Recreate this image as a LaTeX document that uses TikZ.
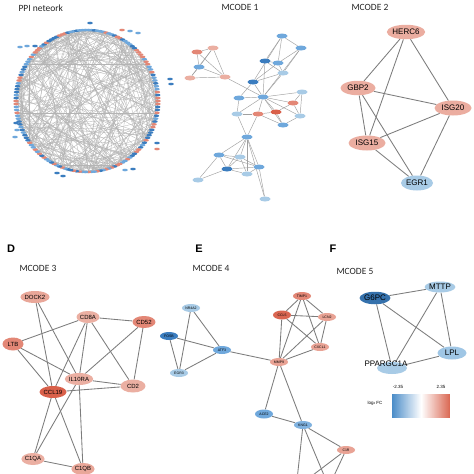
\documentclass[tikz,border=0pt]{standalone}
\usepackage{fontspec}
\setmainfont{Liberation Sans}
\newfontfamily\calib{Carlito}
\usetikzlibrary{shapes.geometric}
\pgfdeclarelayer{bg}
\pgfdeclarelayer{paper}
\pgfsetlayers{paper,bg,main}
\definecolor{bD}{HTML}{3B7DBF}
\definecolor{bM}{HTML}{6FA8DC}
\definecolor{bL}{HTML}{A8CBE6}
\definecolor{rD}{HTML}{D9604A}
\definecolor{rM}{HTML}{E38776}
\definecolor{rL}{HTML}{EBAFA2}
\definecolor{eg}{HTML}{7C7C7C}
\definecolor{eg1}{HTML}{A0A0A0}
\definecolor{eg0}{HTML}{B4B4B4}
\definecolor{legL}{HTML}{4A8CC8}
\definecolor{legR}{HTML}{DB6B56}
\tikzset{
  ttl/.style={font=\calib\fontsize{9.5}{10}\selectfont, text=black!85},
  panel/.style={font=\bfseries\fontsize{11}{11}\selectfont},
  gn/.style={ellipse, inner sep=0pt, draw=none},
  n2/.style={gn, minimum width=35, minimum height=14.5, font=\fontsize{8}{8}\selectfont},
  n3/.style={gn, minimum width=23, minimum height=12, font=\fontsize{6}{6}\selectfont},
  n4/.style={gn, minimum width=18, minimum height=8, font=\fontsize{3.5}{3.5}\selectfont},
  n5/.style={gn, minimum width=29, minimum height=12.5, font=\fontsize{8}{8}\selectfont},
  n1/.style={gn, minimum width=11, minimum height=5},
  np/.style={gn, minimum width=5.5, minimum height=2.6},
  e/.style={draw=eg, line width=0.85},
  e1/.style={draw=eg1, line width=0.45},
  e0/.style={draw=eg0, line width=0.3},
  sm/.style={font=\fontsize{4.5}{5}\selectfont, inner sep=0},
}
\begin{document}
\begin{tikzpicture}[x=1pt,y=-1pt]
\useasboundingbox (0,0) rectangle (474,474);
\begin{pgfonlayer}{paper}
\fill[white] (0,0) rectangle (474,474);
\end{pgfonlayer}
\clip (0,0) rectangle (474,474);

% ---------------- PPI network ----------------
\node[ttl, anchor=west] (tppi) at (15,8) {PPI neteork};
\pgfmathsetseed{4242}
\foreach \i in {1,...,150}{
  \pgfmathsetmacro\ang{\i*2.4}
  \pgfmathtruncatemacro\k{int(rnd*10)}
  \ifnum\k<3 \def\col{rM}\else\ifnum\k<6 \def\col{bD}\else\def\col{bM}\fi\fi
  \node[np, fill=\col] (p\i) at ({87+71*cos(\ang)},{101+71*sin(\ang)}) {};
}
\begin{pgfonlayer}{bg}
\foreach \k in {1,...,340}{
  \pgfmathtruncatemacro\a{random(1,150)}
  \pgfmathtruncatemacro\b{random(1,150)}
  \draw[e0] (p\a.center) -- (p\b.center);
}
\end{pgfonlayer}
\foreach \nm/\x/\y/\c in {q1/90/23/bD, q2/122/30/rM, q3/130/31/bM, q4/138/33/bM,
   q5/20/47/bM, q6/27/46/bM, q7/35/46/bD, q8/16/123/bD, q9/17/130/bM, q10/15/137/bM,
   q11/57/173/bD, q12/63/176/bD, q13/125/170/bM, q14/133/169/bD,
   q15/170/79/bD, q16/171/84/bD, q17/157/143/bD, q18/157/149/rM}{
  \node[np, fill=\c] (\nm) at (\x,\y) {};
}

% ---------------- MCODE 1 ----------------
\node[ttl] (t1) at (240,7) {MCODE 1};
\foreach \nm/\x/\y/\c in {a1/197/52/rM, a2/213/48/rL, a3/199/67/bM, a4/190/78/rL, a5/225/77/rL,
  b1/282/36/bM, b2/301/48/bM, b3/265/61/bD, b4/278/63/bM, b5/283/73/bL,
  c1/253/82/bD, c2/239/98/bM, c3/263/97/bM, c4/302/92/bL, c5/293/103/rM,
  c6/276/112/rD, c7/258/114/rM, c8/237/114/bL, c9/300/116/bL, c10/283/125/bM,
  d1/247/137/bM, d2/219/155/bM, d3/240/157/bL, d4/227/169/bD, d5/259/167/bM,
  d6/247/174/bL, d7/198/180/bL, d8/265/199/bL}{
  \node[n1, fill=\c] (\nm) at (\x,\y) {};
}
\begin{pgfonlayer}{bg}
\foreach \u/\v in {a1/a2, a1/a3, a1/a5, a2/a3, a2/a4, a2/a5, a3/a4, a3/a5, a4/a5,
  a5/c3, b1/b2, b1/b3, b1/b4, b2/b4, b2/b5, b3/b4, b3/b5, b4/b5, b1/c1, b3/c3, b4/c1,
  b5/c1, b2/c3, b5/c3, c1/c3, c2/c3, c3/c4, c3/c5, c3/c6, c3/c7, c3/c8, c3/c9, c3/c10,
  c2/c8, c8/c7, c7/c6, c7/d1, c8/d1, c6/c10, c5/c9, c9/c10, c4/c5, c4/c9, c5/c6, c10/c7,
  c1/c2, d1/d2, d1/d3, d1/d4, d1/d5, d1/d6, d1/d8, d2/d3, d2/d4, d2/d5, d2/d7, d3/d4,
  d3/d6, d3/d5, d4/d5, d4/d6, d4/d7, d5/d6, d5/d8}{
  \draw[e1] (\u) -- (\v);
}
\end{pgfonlayer}

% ---------------- MCODE 2 ----------------
\node[ttl] (t2) at (370,7) {MCODE 2};
\node[n2, fill=rL!95!rM, minimum width=31] (herc) at (406,32) {HERC6};
\node[n2, fill=rL!95!rM] (gbp) at (358,88) {GBP2};
\node[n2, fill=rL!95!rM, minimum width=37, minimum height=15] (isg20) at (453,108) {ISG20};
\node[n2, fill=rL!95!rM, minimum width=37, minimum height=15] (isg15) at (367,143) {ISG15};
\node[n2, fill=bL, minimum width=32, minimum height=15] (egr1) at (417,183) {EGR1};
\begin{pgfonlayer}{bg}
\foreach \u/\v in {herc/gbp, herc/isg15, herc/isg20, gbp/isg20, gbp/isg15, gbp/egr1,
  isg15/isg20, isg15/egr1, isg20/egr1}{
  \draw[e] (\u) -- (\v);
}
\end{pgfonlayer}

% ---------------- D: MCODE 3 ----------------
\node[panel] (pD) at (11,249) {D};
\node[ttl] (t3) at (38,268) {MCODE 3};
\node[n3, fill=rL!80!rM] (dock) at (35,297) {DOCK2};
\node[n3, fill=rL] (cd8a) at (88,317) {CD8A};
\node[n3, fill=rM] (cd52) at (144,322) {CD52};
\node[n3, fill=rM, minimum width=21, minimum height=13] (ltb) at (13,344) {LTB};
\node[n3, fill=rL, minimum width=25] (il10) at (79,379) {IL10RA};
\node[n3, fill=rL, minimum width=25, minimum height=13] (cd2) at (133,386) {CD2};
\node[n3, fill=rD, minimum width=27] (ccl19) at (53,392) {CCL19};
\node[n3, fill=rL] (c1qa) at (33,459) {C1QA};
\node[n3, fill=rL!80!rM] (c1qb) at (83,469) {C1QB};
\begin{pgfonlayer}{bg}
\foreach \u/\v in {dock/ccl19, dock/il10, cd8a/ltb, cd8a/cd52, cd8a/ccl19, cd8a/il10,
  cd8a/cd2, cd52/il10, cd52/cd2, ltb/il10, ltb/ccl19, il10/cd2, il10/c1qa, il10/c1qb,
  ccl19/cd2, ccl19/c1qa, ccl19/c1qb, c1qa/c1qb}{
  \draw[e] (\u) -- (\v);
}
\end{pgfonlayer}

% ---------------- E: MCODE 4 ----------------
\node[panel] (pE) at (199,249) {E};
\node[ttl] (t4) at (211,268) {MCODE 4};
\node[n4, fill=bL] (nr4a2) at (191,308) {NR4A2};
\node[n4, fill=bD] (fosb) at (169,336) {FOSB};
\node[n4, fill=bM] (atf3) at (222,350) {ATF3};
\node[n4, fill=bL] (egr3) at (179,373) {EGR3};
\node[n4, fill=rM] (timp1) at (302,296) {TIMP1};
\node[n4, fill=rD!85!rM, minimum height=9] (ccl5) at (282,315) {CCL5};
\node[n4, fill=rL!70!rM] (lcn2) at (327,317) {LCN2};
\node[n4, fill=rL!70!rM] (cxcl1) at (320,347) {CXCL1};
\node[n4, fill=rL!70!rM] (mmp9) at (279,362) {MMP9};
\node[n4, fill=bM, minimum height=9] (ace2) at (264,414) {ACE2};
\node[n4, fill=bM!70!bL] (kng1) at (303,425) {KNG1};
\node[n4, fill=rL!70!rM] (c1r) at (346,450) {C1R};
\coordinate (ex1) at (297,480);
\coordinate (ex2) at (326,480);
\coordinate (ex3) at (309,478);
\coordinate (ex4) at (332,480);
\begin{pgfonlayer}{bg}
\foreach \u/\v in {nr4a2/egr3, nr4a2/atf3, fosb/egr3, fosb/atf3, egr3/atf3, atf3/mmp9,
  timp1/ccl5, timp1/lcn2, timp1/cxcl1, timp1/mmp9, ccl5/lcn2, ccl5/cxcl1, ccl5/mmp9,
  lcn2/cxcl1, lcn2/mmp9, cxcl1/mmp9, mmp9/ace2, mmp9/kng1, ace2/kng1, kng1/c1r,
  kng1/ex1, kng1/ex2, c1r/ex3, c1r/ex4}{
  \draw[e] (\u) -- (\v);
}
\end{pgfonlayer}

% ---------------- F: MCODE 5 ----------------
\node[panel] (pF) at (333,249) {F};
\node[ttl] (t5) at (355,271) {MCODE 5};
\node[n5, fill=bD!90!black, minimum width=30] (g6pc) at (375,298) {G6PC};
\node[n5, fill=bL, minimum width=28, minimum height=11] (mttp) at (440,287) {MTTP};
\node[n5, fill=bL!85!bM, minimum height=13] (lpl) at (452,353) {LPL};
\node[n5, fill=bL, minimum width=30, minimum height=12] (ppar) at (392,368) {};
\node[font=\fontsize{8}{8}\selectfont, inner sep=0] (ppart) at (386,363.5) {PPARGC1A};
\begin{pgfonlayer}{bg}
\foreach \u/\v in {g6pc/mttp, g6pc/ppar, g6pc/lpl, mttp/ppar, mttp/lpl, ppar/lpl}{
  \draw[e] (\u) -- (\v);
}
\end{pgfonlayer}

% legend
\foreach \j in {0,...,57}{
  \pgfmathtruncatemacro\pc{\j<29 ? 100-\j*100/29 : (\j-29)*100/28}
  \ifnum\j<29 \def\lc{legL}\else\def\lc{legR}\fi
  \fill[\lc!\pc!white] ({392+\j},394) rectangle ({393.3+\j},418);
}
\node[inner sep=0, minimum width=58, minimum height=24] (leg) at (421,406) {};
\node[sm] (lmin) at (398,387) {-2.35};
\node[sm] (lmax) at (441,387) {2.35};
\node[sm] (llab) at (375,403) {log\raisebox{-0.5pt}{\fontsize{3}{3}\selectfont 2} FC};
\end{tikzpicture}
\end{document}
